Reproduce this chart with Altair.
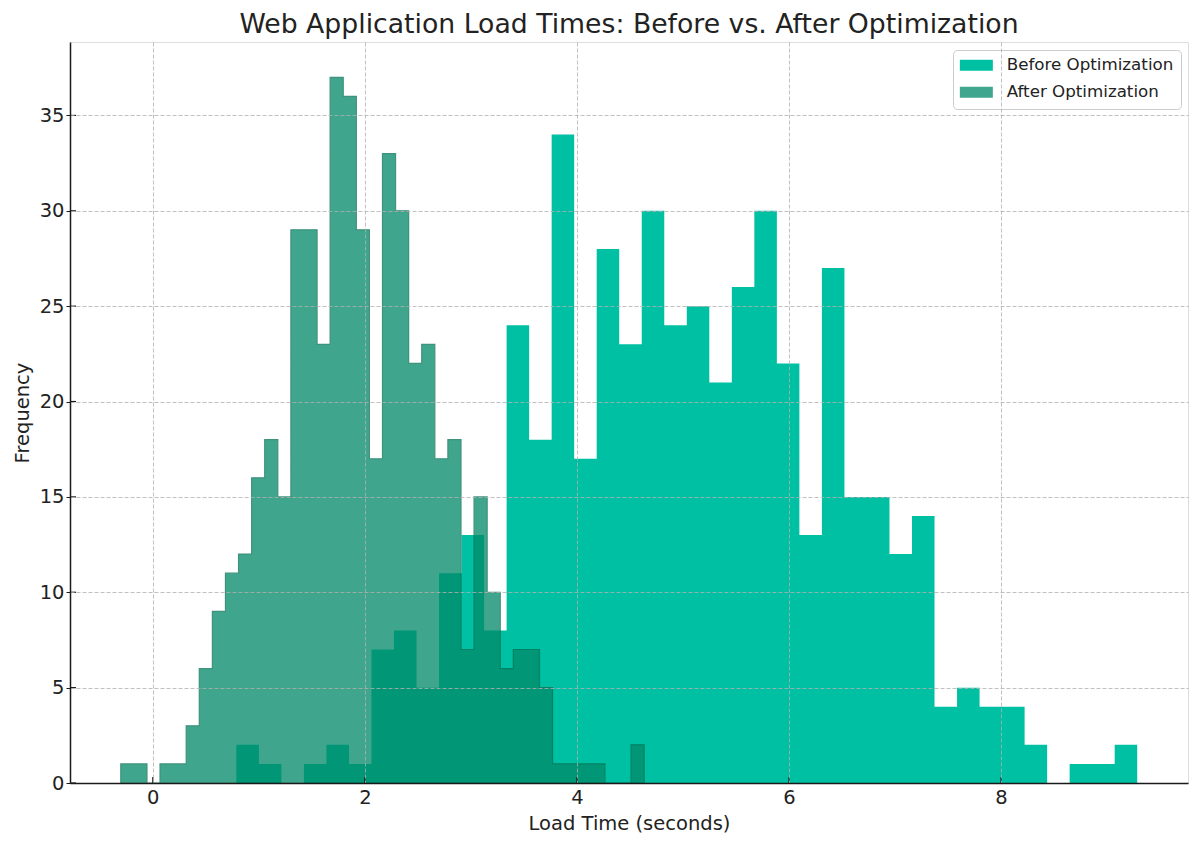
import altair as alt
import pandas as pd

# ---- data ----
series_names = ["Before Optimization", "After Optimization"]

before_counts = [2, 1, 0, 1, 2, 1, 7, 8, 5, 11,
                 13, 8, 24, 18, 34, 17, 28, 23, 30, 24,
                 25, 21, 26, 30, 22, 13, 27, 15, 15, 12,
                 14, 4, 5, 4, 4, 2, 0, 1, 1, 2]
after_counts = [1, 1, 0, 1, 1, 3, 6, 9, 11, 12,
                16, 18, 15, 29, 29, 23, 37, 36, 29, 17,
                33, 30, 22, 23, 17, 18, 7, 15, 10, 6,
                7, 7, 5, 1, 1, 1, 1, 0, 0, 2]

before_bin_start = 0.788
before_bin_width = 0.2124
after_bin_start = -0.302
after_bin_width = 0.1234

x_ticks = [0, 2, 4, 6, 8]
y_ticks = [0, 5, 10, 15, 20, 25, 30, 35]


def step_frame(name, start, width, counts):
    edges = [start + width * i for i in range(len(counts) + 1)]
    return pd.DataFrame({"x": edges, "count": counts + [counts[-1]], "series": name})


before_df = step_frame(series_names[0], before_bin_start, before_bin_width, before_counts)
after_df = step_frame(series_names[1], after_bin_start, after_bin_width, after_counts)
xtick_df = pd.DataFrame({"x": x_ticks})
ytick_df = pd.DataFrame({"count": y_ticks})

FONT = "DejaVu Sans"
TXT = "#222222"

x_scale = alt.Scale(domain=[-0.781, 9.763], nice=False, zero=False)
y_scale = alt.Scale(domain=[0, 38.85], nice=False)

x_axis = alt.Axis(values=x_ticks, format="d", title="Load Time (seconds)",
                  grid=True, gridColor="#b0b0b0", gridDash=[4, 2], gridWidth=1, gridOpacity=0.8,
                  tickSize=0, domainColor="#1a1a1a", domainWidth=1.5,
                  labelFont=FONT, labelFontSize=19.5, labelColor=TXT, labelPadding=5,
                  labelFlush=False,
                  titleFont=FONT, titleFontSize=19.5, titleFontWeight="normal",
                  titleColor=TXT, titlePadding=8, zindex=1)
y_axis = alt.Axis(values=y_ticks, title="Frequency",
                  grid=True, gridColor="#b0b0b0", gridDash=[4, 2], gridWidth=1, gridOpacity=0.8,
                  tickSize=4, tickColor="#1a1a1a", domainColor="#1a1a1a", domainWidth=1.5,
                  labelFont=FONT, labelFontSize=19.5, labelColor=TXT, labelPadding=2,
                  titleFont=FONT, titleFontSize=19.5, titleFontWeight="normal",
                  titleColor=TXT, titlePadding=7, zindex=1)

legend = alt.Legend(title=None, orient="none", legendX=883, legendY=8,
                    symbolType="M-3,-1H3V1H-3Z", symbolSize=121, symbolOffset=8,
                    symbolStrokeWidth=0, labelOffset=22, labelLimit=400,
                    labelFont=FONT, labelFontSize=16.7, labelColor=TXT,
                    padding=7, rowPadding=9, strokeColor="#cccccc",
                    fillColor="rgba(255,255,255,0.8)", cornerRadius=4)

color_enc = alt.Color("series:N", scale=alt.Scale(domain=series_names,
                                                  range=["#00c0a3", "#008867"]),
                      legend=legend)
op_enc = alt.Opacity("series:N", scale=alt.Scale(domain=series_names, range=[1, 0.75]),
                     legend=legend)

x_enc = alt.X("x:Q", scale=x_scale, axis=x_axis)
y_enc = alt.Y("count:Q", scale=y_scale, axis=y_axis, stack=None)

before_area = alt.Chart(before_df).mark_area(interpolate="step-after").encode(
    x=x_enc, y=y_enc, color=color_enc, opacity=op_enc)

after_area = alt.Chart(after_df).mark_area(
    interpolate="step-after", stroke="#006e50", strokeWidth=1.2
).encode(x=x_enc, y=y_enc, color=color_enc, opacity=op_enc)

xticks_in = alt.Chart(xtick_df).mark_rule(color="#1a1a1a", strokeWidth=1.2).encode(
    x=x_enc, y=alt.value(735), y2=alt.value(741))
yticks_in = alt.Chart(ytick_df).mark_rule(color="#1a1a1a", strokeWidth=1.2).encode(
    y=y_enc, x=alt.value(0), x2=alt.value(6))

chart = alt.layer(before_area, after_area, xticks_in, yticks_in).properties(
    width=1118, height=741,
    padding={"left": 62, "top": 34, "right": 4, "bottom": 58},
    autosize=alt.AutoSizeParams(type="none"),
    title=alt.TitleParams(text="Web Application Load Times: Before vs. After Optimization",
                          font=FONT, fontSize=26.7, fontWeight="normal", color=TXT,
                          anchor="middle", offset=4, baseline="bottom", dy=28),
).configure_view(stroke=None).configure(background="white")

chart.save("out.html", embed_options={"renderer": "svg", "actions": False})
